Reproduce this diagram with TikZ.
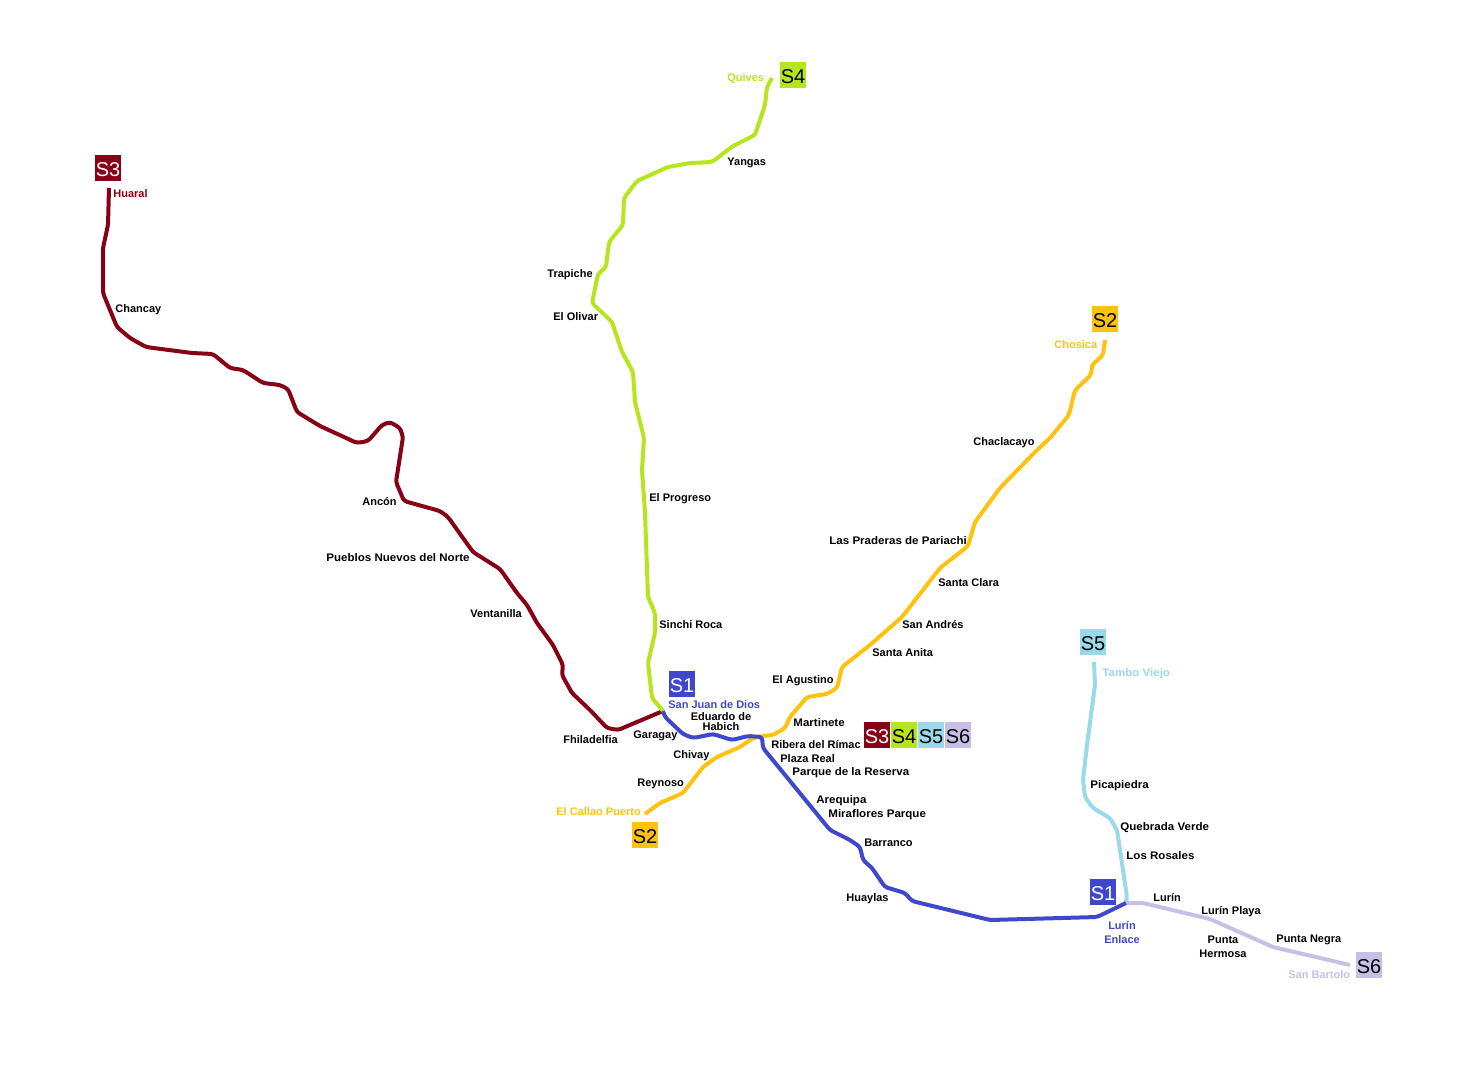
\documentclass[tikz,border=0pt]{standalone}
\usepackage{fontspec}
\setmainfont{Liberation Sans}
\definecolor{lineS1}{RGB}{63,72,204}
\definecolor{lineS2}{RGB}{255,194,14}
\definecolor{lineS3}{RGB}{136,0,21}
\definecolor{lineS4}{RGB}{181,230,29}
\definecolor{lineS5}{RGB}{153,217,234}
\definecolor{lineS6}{RGB}{200,191,231}
\tikzset{
  route/.style={line width=2pt, rounded corners=1.5pt, line join=round},
  badge/.style={minimum size=13pt, inner sep=0pt, text height=8.2pt, font=\fontsize{10}{10}\selectfont, text=black},
  stop/.style={anchor=west, inner sep=0pt, yshift=-0.5pt, text=black, font=\fontsize{5.5}{7}\selectfont\bfseries},
  wide/.style={font=\fontsize{5.5}{7}\selectfont\bfseries\addfontfeature{FakeStretch=1.05}},
  stopc/.style={stop, anchor=center, align=center}
}

\begin{document}
\begin{tikzpicture}[x=0.5pt,y=-0.5pt]
  \useasboundingbox (0,0) rectangle (1484,1088);
  \coordinate (huaralEnd) at (109,188);
  \coordinate (quivesEnd) at (772,78);
  \coordinate (sjdd) at (663,711);
  \coordinate (callaoEnd) at (645,814);
  \coordinate (chosicaEnd) at (1105,340);
  \coordinate (tamboEnd) at (1094,662);
  \coordinate (lurin) at (1126,903);
  \coordinate (bartoloEnd) at (1350,965);
  % lines
  \draw[route, lineS3] (huaralEnd) -- (108,225) -- (103,248) -- (103,293) -- (117,327) -- (130,338) -- (146,347)
    -- (192,353) -- (213,354) -- (230,368) -- (243,370) -- (263,383) -- (280,385) -- (288,389) -- (297,412)
    -- (320,426) -- (357,443) -- (368,441) -- (382,425) -- (390,422) -- (400,428) -- (403,437) -- (396,482)
    -- (404,501) -- (440,511) -- (448,517) -- (473,552) -- (500,569) -- (517,593) -- (527,605) -- (537,623)
    -- (553,645) -- (563,665) -- (562,675) -- (572,693) -- (590,710) -- (607,728) -- (618,730) -- (sjdd);
  \draw[route, lineS4] (quivesEnd) -- (767,87) -- (765,105) -- (755,135) -- (733,146) -- (712,162) -- (690,163)
    -- (668,167) -- (637,181) -- (624,198) -- (623,225) -- (609,242) -- (606,267) -- (598,274) -- (592,303)
    -- (612,322) -- (622,352) -- (633,372) -- (635,402) -- (644,438) -- (642,470) -- (645,513) -- (648,597)
    -- (655,613) -- (655,633) -- (648,663) -- (652,698) -- (sjdd);
  \draw[route, lineS2] (callaoEnd) -- (660,803) -- (683,793) -- (703,767) -- (717,757) -- (740,747) -- (753,738)
    -- (763,736) -- (773,735) -- (785,728) -- (790,717) -- (807,697) -- (827,694) -- (837,688) -- (842,667)
    -- (870,645) -- (902,617) -- (940,568) -- (968,546) -- (975,522) -- (1000,488) -- (1035,452) -- (1050,438)
    -- (1069,415) -- (1073,398) -- (1075,390) -- (1091,375) -- (1092,365) -- (1103,355) -- (chosicaEnd);
  \draw[route, lineS5] (tamboEnd) -- (1095,685) -- (1087,745) -- (1083,780) -- (1085,797) -- (1093,808)
    -- (1110,818) -- (1117,830) -- (1127,897) -- (lurin);
  \draw[route, lineS6] (lurin) -- (1143,903) -- (1210,919) -- (1273,947) -- (bartoloEnd);
  \draw[route, lineS1] (sjdd) -- (665,717) -- (683,734) -- (693,738) -- (713,734) -- (732,740) -- (748,736)
    -- (762,737) -- (763,748) -- (830,830) -- (850,840) -- (860,847) -- (863,860) -- (872,868) -- (885,887)
    -- (905,893) -- (912,901) -- (990,920) -- (1097,917) -- (lurin);
  % badges
  \node[badge, fill=lineS3, text=white] (s3top) at (108,168) {S3};
  \node[badge, fill=lineS4] (s4top) at (793,75) {S4};
  \node[badge, fill=lineS2] (s2top) at (1105,319) {S2};
  \node[badge, fill=lineS5] (s5top) at (1093,642) {S5};
  \node[badge, fill=lineS1, text=white] (s1top) at (682,684) {S1};
  \node[badge, fill=lineS2] (s2low) at (645,835) {S2};
  \node[badge, fill=lineS1, text=white] (s1low) at (1103,892) {S1};
  \node[badge, fill=lineS6] (s6low) at (1369,965) {S6};
  \node[badge, fill=lineS3, text=white] (s3mid) at (877,735) {S3};
  \node[badge, fill=lineS4] (s4mid) at (904,735) {S4};
  \node[badge, fill=lineS5] (s5mid) at (931,735) {S5};
  \node[badge, fill=lineS6] (s6mid) at (958,735) {S6};
  % S3 stops
  \node[stop, text=lineS3] (huaral) at (113,193) {Huaral};
  \node[stop] (chancay) at (115,309) {Chancay};
  \node[stop] (ancon) at (362,501) {Ancón};
  \node[stop, wide] (pueblos) at (326,557) {Pueblos Nuevos del Norte};
  \node[stop] (ventanilla) at (470,613) {Ventanilla};
  \node[stop] (filadelfia) at (563,739) {Fhiladelfia};
  % S4 stops
  \node[stop, text=lineS4] (quives) at (727,78) {Quives};
  \node[stop] (yangas) at (727,162) {Yangas};
  \node[stop] (trapiche) at (547,274) {Trapiche};
  \node[stop] (olivar) at (553,316) {El Olivar};
  \node[stop] (progreso) at (649,498) {El Progreso};
  \node[stop] (sinchi) at (659,624) {Sinchi Roca};
  % S2 stops
  \node[stop, text=lineS2] (callao) at (556,811) {El Callao Puerto};
  \node[stop] (reynoso) at (637,783) {Reynoso};
  \node[stop] (chivay) at (673,755) {Chivay};
  \node[stop, wide] (martinete) at (793,722) {Martinete};
  \node[stop] (agustino) at (772,680) {El Agustino};
  \node[stop] (anita) at (872,652) {Santa Anita};
  \node[stop] (andres) at (902,624) {San Andrés};
  \node[stop] (clara) at (938,582) {Santa Clara};
  \node[stop, wide] (praderas) at (829,540) {Las Praderas de Pariachi};
  \node[stop] (chaclacayo) at (973,442) {Chaclacayo};
  \node[stop, text=lineS2] (chosica) at (1054,344) {Chosica};
  % S1 stops
  \node[stop, text=lineS1] (sanjuan) at (668,704) {San Juan de Dios};
  \node[stop] (garagay) at (633,735) {Garagay};
  \node[stopc, font=\fontsize{5.5}{5}\selectfont\bfseries] (habich) at (721,721) {Eduardo de\\Habich};
  \node[stop] (ribera) at (771,744) {Ribera del Rímac};
  \node[stop] (plaza) at (780,758) {Plaza Real};
  \node[stop, wide] (reserva) at (792,772) {Parque de la Reserva};
  \node[stop, wide] (arequipa) at (816,800) {Arequipa};
  \node[stop, wide] (miraflores) at (828,814) {Miraflores Parque};
  \node[stop] (barranco) at (864,842) {Barranco};
  \node[stop] (huaylas) at (846,898) {Huaylas};
  \node[stopc, text=lineS1] (enlace) at (1122,932) {Lurín\\Enlace};
  % S5 stops
  \node[stop, wide, text=lineS5] (tambo) at (1102,673) {Tambo Viejo};
  \node[stop, wide] (picapiedra) at (1090,785) {Picapiedra};
  \node[stop, wide] (quebrada) at (1120,827) {Quebrada Verde};
  \node[stop, wide] (rosales) at (1126,855) {Los Rosales};
  % S6 stops
  \node[stop] (lurinst) at (1153,897) {Lurín};
  \node[stop] (playa) at (1201,911) {Lurín Playa};
  \node[stopc] (hermosa) at (1223,946) {Punta\\Hermosa};
  \node[stop] (negra) at (1276,939) {Punta Negra};
  \node[stop, text=lineS6] (bartolo) at (1288,974) {San Bartolo};
\end{tikzpicture}
\end{document}
